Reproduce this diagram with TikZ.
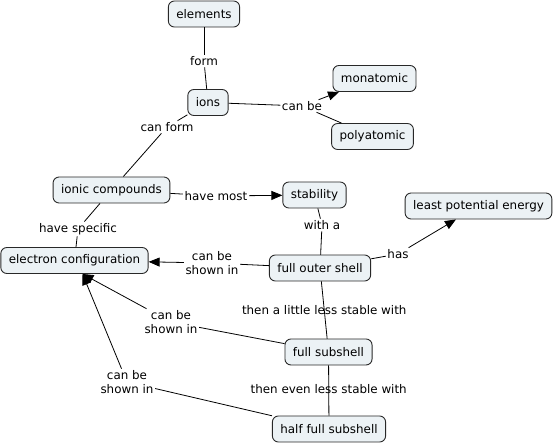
\documentclass[tikz,border=0pt]{standalone}
\usepackage{fontspec}
\setmainfont{DejaVu Sans}
\usetikzlibrary{arrows.meta}
\definecolor{boxfill}{RGB}{236,242,245}
\definecolor{boxline}{RGB}{40,40,40}
\tikzset{
  concept/.style={draw=boxline, line width=0.9pt, fill=boxfill, rounded corners=6pt,
    minimum height=26pt, inner xsep=8pt, inner ysep=3pt, font=\fontsize{11.9}{14}\selectfont},
  lbl/.style={inner sep=1.5pt, font=\fontsize{11.9}{14}\selectfont, align=center},
  link/.style={line width=0.8pt, draw=black},
  arr/.style={link, -{Triangle[length=11pt,width=9pt]}},
}
\begin{document}
\begin{tikzpicture}[x=1pt,y=-1pt]
\useasboundingbox (0,0) rectangle (555,443);
% concepts
\node[concept] (elements) at (204,14) {elements};
\node[concept] (ions) at (208,102.5) {ions};
\node[concept] (mono) at (374.5,78.5) {monatomic};
\node[concept] (poly) at (372.5,136.5) {polyatomic};
\node[concept] (ionic) at (111.5,190) {ionic compounds};
\node[concept] (stab) at (314.5,195) {stability};
\node[concept] (lpe) at (478.5,206) {least potential energy};
\node[concept] (econf) at (74.5,260.5) {electron configuration};
\node[concept] (fos) at (320,268) {full outer shell};
\node[concept] (fsub) at (328.5,352) {full subshell};
\node[concept] (hfs) at (329,429) {half full subshell};
\coordinate (ectarget) at ([xshift=8pt]econf.south);
% labels
\node[lbl] (l1) at (204,61) {form};
\node[lbl] (l2) at (302,106) {can be};
\node[lbl] (l3) at (167,127) {can form};
\node[lbl] (l4) at (216,196) {have most};
\node[lbl] (l5) at (322,225) {with a};
\node[lbl] (l6) at (398,254) {has};
\node[lbl] (l7) at (78,229) {have specific};
\node[lbl] (l8) at (212,263) {can be\\shown in};
\node[lbl] (l10) at (171,322) {can be\\shown in};
\node[lbl] (l12) at (127,382) {can be\\shown in};
% links
\draw[link] (elements) -- (l1);
\draw[link] (l1) -- (ions);
\draw[link] (ions) -- (l2);
\draw[arr] (l2) -- (mono);
\draw[link] (l2) -- (poly);
\draw[link] (ions) -- (l3);
\draw[link] (l3) -- (ionic);
\draw[link] (ionic) -- (l4);
\draw[arr] (l4) -- (stab);
\draw[link] (stab) -- (l5);
\draw[link] (l5) -- (fos);
\draw[link] (fos) -- (l6);
\draw[arr] (l6) -- (lpe);
\draw[link] (ionic) -- (l7);
\draw[link] (l7) -- (econf);
\draw[link] (fos) -- (l8);
\draw[arr] (l8) -- (econf);
\draw[link] (fos) -- (fsub) node[lbl, pos=0.5] (l9) {then a little less stable with};
\draw[link] (fsub) -- (l10);
\draw[arr] (l10) -- (ectarget);
\draw[link] (fsub) -- (hfs) node[lbl, pos=0.47] (l11) {then even less stable with};
\draw[link] (hfs) -- (l12);
\draw[arr] (l12) -- (ectarget);
\end{tikzpicture}
\end{document}
